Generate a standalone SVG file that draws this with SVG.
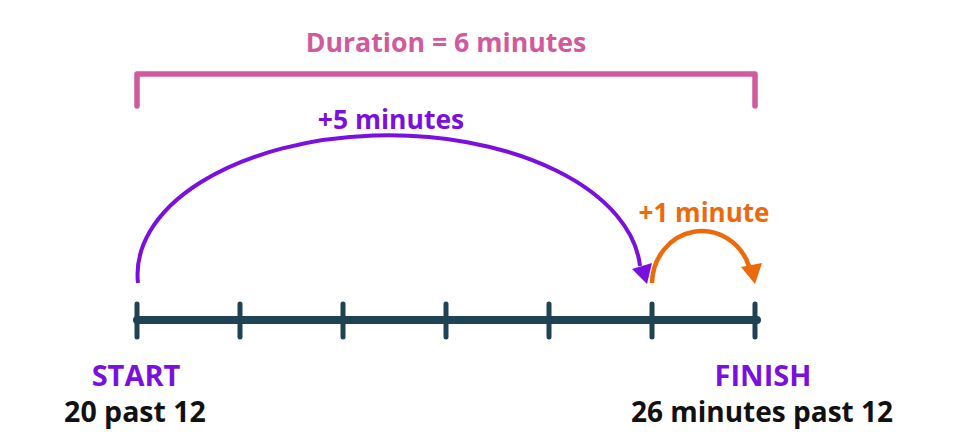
<svg xmlns="http://www.w3.org/2000/svg" width="976" height="444" viewBox="0 0 976 444">
<style>
text{font-family:"Open Sans","Liberation Sans",sans-serif;font-weight:bold;text-anchor:middle}
.pink{fill:#d15a9d}
.purple{fill:#7a10e0}
.orange{fill:#ec6a0b}
.black{fill:#111}
.tick{stroke:#1f4254;stroke-width:5;stroke-linecap:round}
</style>
<rect width="976" height="444" fill="#fff"/>
<g id="duration">
<path d="M137 106 V74 H755 V106" fill="none" stroke="#d15a9d" stroke-width="5.5" stroke-linecap="round" stroke-linejoin="round"/>
<text x="446" y="52" font-size="26.7" class="pink">Duration = 6 minutes</text>
</g>
<g id="numberline">
<line x1="137" y1="320" x2="757" y2="320" stroke="#1f4254" stroke-width="8" stroke-linecap="round"/>
<line class="tick" x1="137" y1="304" x2="137" y2="337"/>
<line class="tick" x1="240" y1="304" x2="240" y2="337"/>
<line class="tick" x1="343" y1="304" x2="343" y2="337"/>
<line class="tick" x1="446" y1="304" x2="446" y2="337"/>
<line class="tick" x1="549" y1="304" x2="549" y2="337"/>
<line class="tick" x1="652" y1="304" x2="652" y2="337"/>
<line class="tick" x1="755" y1="304" x2="755" y2="337"/>
</g>
<g id="connectors">
<path d="M138 283 A251 139 0 0 1 640 266" fill="none" stroke="#7a10e0" stroke-width="4"/>
<polygon points="632,269 652,263 647,284" fill="#7a10e0"/>
<path d="M652 283 A50 53 0 0 1 749 266" fill="none" stroke="#ec6a0b" stroke-width="4.5"/>
<polygon points="741,267 762,263 755,284" fill="#ec6a0b"/>
</g>
<g id="label-plus5">
<text x="391" y="129" font-size="26.5" class="purple">+5 minutes</text>
</g>
<g id="label-plus1">
<text x="704" y="222" font-size="26" class="orange">+1 minute</text>
</g>
<g id="start">
<text x="136" y="386" font-size="29" class="purple">START</text>
<text x="135" y="422" font-size="28.5" class="black">20 past 12</text>
</g>
<g id="finish">
<text x="763" y="386" font-size="29" class="purple">FINISH</text>
<text x="762" y="422" font-size="28" class="black">26 minutes past 12</text>
</g>
</svg>
